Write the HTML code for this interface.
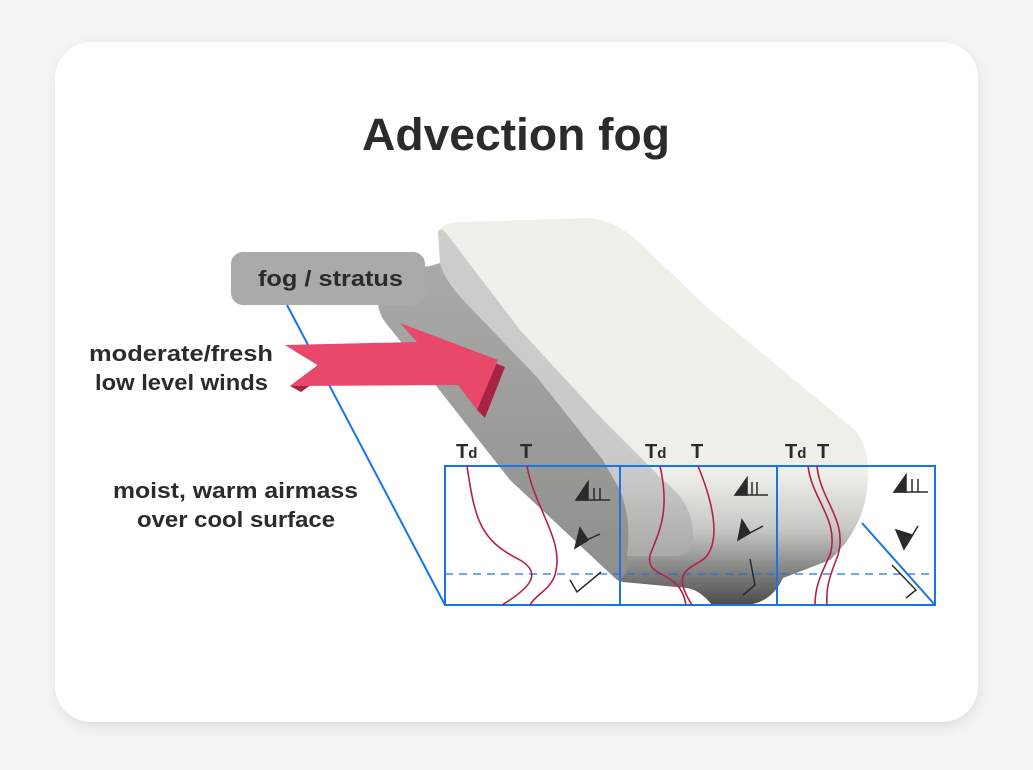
<!DOCTYPE html>
<html><head><style>
body{margin:0;width:1033px;height:765px;background:#f4f4f4;overflow:hidden;font-family:"Liberation Sans",sans-serif}
</style></head><body>
<svg width="1033" height="765" xmlns="http://www.w3.org/2000/svg" font-family="Liberation Sans, sans-serif">
<defs>
<filter id="sh" x="-10%" y="-10%" width="120%" height="120%"><feGaussianBlur stdDeviation="6"/></filter>
<linearGradient id="front" gradientUnits="userSpaceOnUse" x1="0" y1="218" x2="0" y2="606"><stop offset="0" stop-color="#f0f0eb"/><stop offset="0.66" stop-color="#efefea"/><stop offset="0.8" stop-color="#c8c8c4"/><stop offset="1" stop-color="#4a4a4a"/></linearGradient>
<linearGradient id="side" gradientUnits="userSpaceOnUse" x1="0" y1="260" x2="0" y2="585"><stop offset="0" stop-color="#aaaaa8"/><stop offset="1" stop-color="#8e8e8a"/></linearGradient>
<linearGradient id="stripe" gradientUnits="userSpaceOnUse" x1="0" y1="230" x2="0" y2="560"><stop offset="0" stop-color="#cdcdcb"/><stop offset="0.75" stop-color="#c9c9c7"/><stop offset="1" stop-color="#a8a8a6"/></linearGradient>
</defs>
<rect x="57" y="46" width="921" height="680" rx="36" fill="#ddd" filter="url(#sh)"/>
<rect x="55" y="42" width="923" height="680" rx="36" fill="#fff"/>
<text x="516" y="150" text-anchor="middle" font-size="45" font-weight="bold" fill="#2b2b2b" textLength="308" lengthAdjust="spacingAndGlyphs">Advection fog</text>

<!-- big light body (top + front) -->
<path d="M438,235 Q440,222 460,222 L590,218 Q615,220 640,243 L710,310 L855,430 Q872,450 867,490 Q862,530 830,560 L783,578 Q770,606 740,605 L712,605 Q700,590 687,588 L623,582 L617,580 Z" fill="url(#front)"/>
<!-- dark side -->
<path d="M440,263 Q445,282 470,307 L537,377 L603,460 L620,490 Q632,520 627,556 Q630,575 617,580 L510,480 L437,387 L385,322 Q370,300 388,282 Q402,268 430,266 Z" fill="url(#side)"/>
<!-- stripe -->
<path d="M438,232 Q440,226 446,233 L520,330 L603,420 L663,480 Q695,505 693,538 Q690,556 675,556 L627,556 Q632,520 620,490 L603,460 L537,377 L470,307 Q445,282 440,263 Z" fill="url(#stripe)"/>

<!-- blue lines -->
<g stroke="#1a73e8" stroke-width="2" fill="none">
<rect x="445" y="466" width="490" height="139"/>
<line x1="620" y1="466" x2="620" y2="605"/>
<line x1="777" y1="466" x2="777" y2="605"/>
<line x1="287" y1="305" x2="445" y2="605"/>
<line x1="862" y1="523" x2="935" y2="605"/>
</g>
<line x1="445" y1="574" x2="935" y2="574" stroke="#1a73e8" stroke-width="1.3" stroke-dasharray="8,6"/>

<!-- red curves -->
<g stroke="#b5204a" stroke-width="1.6" fill="none">
<path d="M467,466 C475,520 480,540 520,560 C540,572 535,585 502,605"/>
<path d="M527,466 C535,510 565,540 555,575 C550,590 535,595 530,605"/>
<path d="M660,466 C670,510 660,530 650,555 C645,580 680,568 686,605"/>
<path d="M698,466 C712,500 722,540 705,558 C690,570 670,570 692,605"/>
<path d="M808,466 C812,500 840,520 830,555 C818,580 815,590 815,605"/>
<path d="M817,466 C820,500 848,520 838,555 C828,580 826,590 827,605"/>
</g>

<!-- wind barbs -->
<g fill="#2a2a28" stroke="#2a2a28" stroke-width="1.5">
<polygon points="576,500 588,482 588,500"/><line x1="576" y1="500" x2="610" y2="500"/><line x1="594" y1="488" x2="594" y2="500"/><line x1="600" y1="488" x2="600" y2="500"/>
<polygon points="575,548 580,528 588,540"/><line x1="580" y1="543" x2="600" y2="534"/>
<polyline points="570,580 577,592 601,572" fill="none"/>
<polygon points="735,495 747,478 747,495"/><line x1="735" y1="495" x2="768" y2="495"/><line x1="752" y1="482" x2="752" y2="495"/><line x1="757" y1="482" x2="757" y2="495"/>
<polygon points="738,540 742,520 750,533"/><line x1="744" y1="536" x2="763" y2="526"/>
<polyline points="750,559 755,585 743,595" fill="none"/>
<polygon points="894,492 906,475 906,492"/><line x1="894" y1="492" x2="928" y2="492"/><line x1="912" y1="479" x2="912" y2="492"/><line x1="918" y1="479" x2="918" y2="492"/>
<polygon points="896,530 912,535 904,549"/><line x1="906" y1="546" x2="918" y2="526"/>
<polyline points="892,565 916,590 906,598" fill="none"/>
</g>

<!-- Td/T labels -->
<g font-size="20" font-weight="bold" fill="#2a2a28">
<text x="456" y="458">T<tspan font-size="15">d</tspan></text><text x="520" y="458">T</text>
<text x="645" y="458">T<tspan font-size="15">d</tspan></text><text x="691" y="458">T</text>
<text x="785" y="458">T<tspan font-size="15">d</tspan></text><text x="817" y="458">T</text>
</g>

<!-- arrow -->
<polygon points="285,345 296,352 329,372 301,392 290,386 318,365" fill="#a82444"/>
<polygon points="400,323 410,330 505,367 485,418 477,410 483,395" fill="#a82444"/>
<polygon points="285,345 417,342 400,323 498,360 477,410 458,385 290,386 318,365" fill="#e8486a"/>

<!-- fog/stratus -->
<rect x="231" y="252" width="194" height="53" rx="12" fill="#aaa"/>
<text x="258" y="286" font-size="22" font-weight="bold" fill="#2b2b2b" textLength="145" lengthAdjust="spacingAndGlyphs">fog / stratus</text>

<g font-size="22" font-weight="bold" fill="#2b2b2b">
<text x="89" y="361" textLength="184" lengthAdjust="spacingAndGlyphs">moderate/fresh</text>
<text x="95" y="390" textLength="173" lengthAdjust="spacingAndGlyphs">low level winds</text>
<text x="113" y="498" textLength="245" lengthAdjust="spacingAndGlyphs">moist, warm airmass</text>
<text x="137" y="527" textLength="198" lengthAdjust="spacingAndGlyphs">over cool surface</text>
</g>
</svg>
</body></html>
